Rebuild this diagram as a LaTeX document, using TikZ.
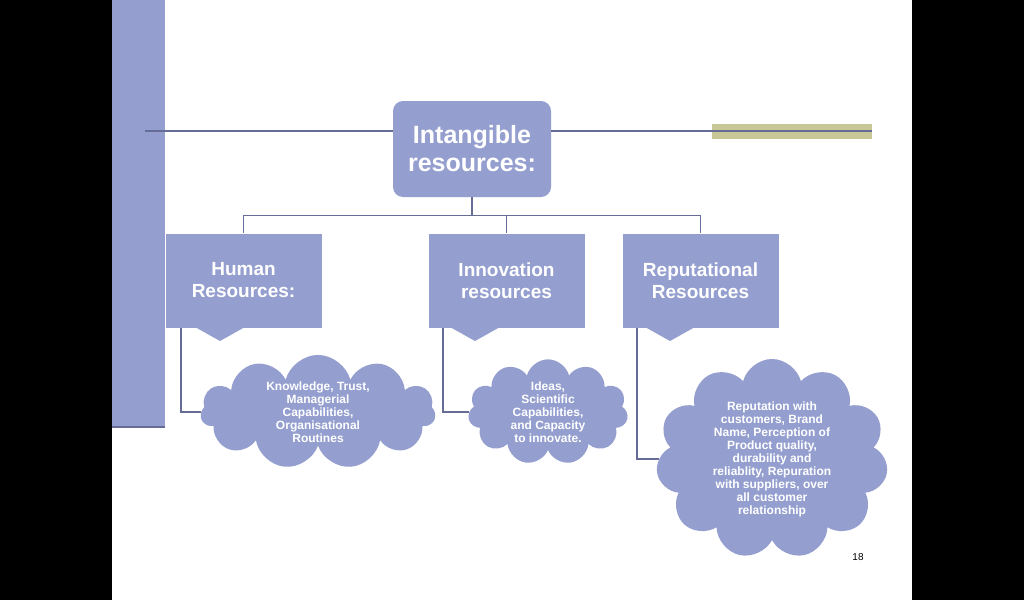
\documentclass[tikz,border=0pt]{standalone}
\usepackage{fontspec}
\setmainfont{Liberation Sans}
\usetikzlibrary{shapes.symbols}
\definecolor{pb}{HTML}{949FCF}
\definecolor{ln}{HTML}{666C96}
\definecolor{tan}{HTML}{C8C896}
\tikzset{
 conn/.style={draw=ln,line width=1.2pt},
 topbox/.style={fill=pb,rounded corners=10pt,minimum width=158pt,minimum height=96pt,text=white,font=\bfseries\fontsize{25}{28}\selectfont,align=center},
 childbox/.style={fill=pb,draw=white,line width=1pt,minimum width=157pt,minimum height=95pt,text=white,font=\bfseries\fontsize{19}{22}\selectfont,align=center},
 cloudbox/.style={cloud,cloud puffs=11,cloud ignores aspect,fill=pb,text=white,font=\bfseries\fontsize{12}{13}\selectfont,align=center,inner sep=0pt},
}
\begin{document}
\begin{tikzpicture}[x=1pt,y=-1pt]
\fill[black] (0,0) rectangle (1024,600);
\fill[white] (112,0) rectangle (912,600);
\fill[pb] (112,0) rectangle (165,428);
\draw[ln,line width=2.5pt] (112,427) -- (165,427);
\fill[tan] (712,124) rectangle (872,139);
\node[topbox] (top) at (472,149) {Intangible\\resources:};
\coordinate (l1) at (145,131);
\coordinate (r1) at (872,131);
\draw[conn] (l1) -- (l1-|top.west);
\draw[conn] (r1-|top.east) -- (r1);
\node[childbox] (hr) at (243.5,280.5) {Human\\Resources:};
\node[childbox] (ir) at (506.5,280.5) {Innovation\\resources};
\node[childbox] (rr) at (700.5,280.5) {Reputational\\Resources};
\fill[pb] (195,327) -- (245,327) -- (220,341) -- cycle;
\fill[pb] (450,327) -- (500,327) -- (475,341) -- cycle;
\fill[pb] (645,327) -- (695,327) -- (670,341) -- cycle;
\draw[conn] (top.south) -- ++(0,18) -| (hr.north);
\draw[conn] (top.south) ++(0,18) -| (ir.north);
\draw[conn] (top.south) ++(0,18) -| (rr.north);
\node[cloudbox,minimum width=235pt,minimum height=100pt] (c1) at (318,412) {Knowledge, Trust,\\Managerial\\Capabilities,\\Organisational\\Routines};
\node[cloudbox,minimum width=160pt,minimum height=100pt] (c2) at (548,412) {Ideas,\\Scientific\\Capabilities,\\and Capacity\\to innovate.};
\node[cloudbox,minimum width=232pt,minimum height=200pt] (c3) at (772,459) {Reputation with\\customers, Brand\\Name, Perception of\\Product quality,\\durability and\\reliablity, Repuration\\with suppliers,  over\\all customer\\relationship};
\draw[conn] (181,328) |- (c1.west);
\draw[conn] (443,328) |- (c2.west);
\draw[conn] (637,328) |- (c3.west);
\node[font=\fontsize{10}{12}\selectfont] (pg) at (858,557) {18};
\end{tikzpicture}
\end{document}
